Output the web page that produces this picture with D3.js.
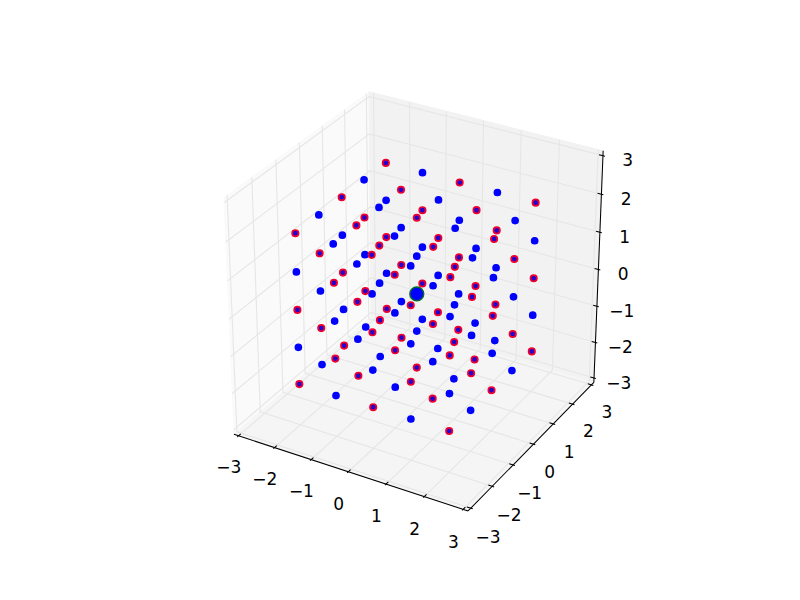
<!DOCTYPE html>
<html>
<head>
<meta charset="utf-8">
<script src="https://cdn.jsdelivr.net/npm/d3@7"></script>
<style>html,body{margin:0;padding:0;background:#fff}svg{display:block}</style>
</head>
<body>
<svg id="c" width="800" height="600"></svg>
<script>
const tickValues = [-3,-2,-1,0,1,2,3];
const tickLabels = ["\u22123","\u22122","\u22121","0","1","2","3"];
const centreSite = [[0,0,0]];
const redEdgeSites = [
[-2,-2,-2],[-2,-2,0],[-2,-2,2],[-2,-1,-1],[-2,-1,1],[-2,0,-2],[-2,0,0],[-2,0,2],[-2,1,-1],[-2,1,1],[-2,2,-2],[-2,2,0],[-2,2,2],
[-1,-2,-1],[-1,-2,1],[-1,-1,-2],[-1,-1,0],[-1,-1,2],[-1,0,-1],[-1,0,1],[-1,1,-2],[-1,1,0],[-1,1,2],[-1,2,-1],[-1,2,1],
[0,-2,-2],[0,-2,0],[0,-2,2],[0,-1,-1],[0,-1,1],[0,0,-2],[0,0,2],[0,1,-1],[0,1,1],[0,2,-2],[0,2,0],[0,2,2],
[1,-2,-1],[1,-2,1],[1,-1,-2],[1,-1,0],[1,-1,2],[1,0,-1],[1,0,1],[1,1,-2],[1,1,0],[1,1,2],[1,2,-1],[1,2,1],
[2,-2,-2],[2,-2,0],[2,-2,2],[2,-1,-1],[2,-1,1],[2,0,-2],[2,0,0],[2,0,2],[2,1,-1],[2,1,1],[2,2,-2],[2,2,0],[2,2,2]
];
const blueEdgeSites = [
[-2,-2,-1],[-2,-2,1],[-2,-1,-2],[-2,-1,0],[-2,-1,2],[-2,0,-1],[-2,0,1],[-2,1,-2],[-2,1,0],[-2,1,2],[-2,2,-1],[-2,2,1],
[-1,-2,-2],[-1,-2,0],[-1,-2,2],[-1,-1,-1],[-1,-1,1],[-1,0,-2],[-1,0,0],[-1,0,2],[-1,1,-1],[-1,1,1],[-1,2,-2],[-1,2,0],[-1,2,2],
[0,-2,-1],[0,-2,1],[0,-1,-2],[0,-1,0],[0,-1,2],[0,0,-1],[0,0,1],[0,1,-2],[0,1,0],[0,1,2],[0,2,-1],[0,2,1],
[1,-2,-2],[1,-2,0],[1,-2,2],[1,-1,-1],[1,-1,1],[1,0,-2],[1,0,0],[1,0,2],[1,1,-1],[1,1,1],[1,2,-2],[1,2,0],[1,2,2],
[2,-2,-1],[2,-2,1],[2,-1,-2],[2,-1,0],[2,-1,2],[2,0,-1],[2,0,1],[2,1,-2],[2,1,0],[2,1,2],[2,2,-1],[2,2,1]
];

const elev = 30*Math.PI/180, azim = -60*Math.PI/180, dist = 10;
const world = d3.scaleLinear().domain([-3,3]).range([0,1]);
const screenX = d3.scaleLinear().domain([-0.095,0.09]).range([170.3,650.3]);
const screenY = d3.scaleLinear().domain([-0.095,0.09]).range([540.4,60.4]);
const E = [.5+dist*Math.cos(elev)*Math.cos(azim), .5+dist*Math.cos(elev)*Math.sin(azim), .5+dist*Math.sin(elev)];
const norm = v => { const l=Math.hypot(...v); return v.map(d=>d/l); };
const cross = (a,b) => [a[1]*b[2]-a[2]*b[1], a[2]*b[0]-a[0]*b[2], a[0]*b[1]-a[1]*b[0]];
const dot = (a,b) => a[0]*b[0]+a[1]*b[1]+a[2]*b[2];
const n = norm([E[0]-.5,E[1]-.5,E[2]-.5]), u = norm(cross([0,0,1],n)), v = cross(n,u);
function view(p){ const w=[world(p[0])-E[0],world(p[1])-E[1],world(p[2])-E[2]]; const z=-dot(n,w); return {x:dot(u,w)/z,y:dot(v,w)/z,z}; }
function proj(p){ const q=view(p); return [screenX(q.x),screenY(q.y)]; }

const svg = d3.select("#c");
const lo=-3.125, hi=3.125;
const line = d3.line().x(d=>proj(d)[0]).y(d=>proj(d)[1]);

const panes = [
 {c:"#fafafa",p:[[lo,lo,lo],[lo,hi,lo],[lo,hi,hi],[lo,lo,hi]]},
 {c:"#f2f2f2",p:[[lo,hi,lo],[hi,hi,lo],[hi,hi,hi],[lo,hi,hi]]},
 {c:"#f5f5f5",p:[[lo,lo,lo],[hi,lo,lo],[hi,hi,lo],[lo,hi,lo]]}
];
svg.append("g").selectAll("path").data(panes).join("path")
  .attr("d",d=>line(d.p)+"Z").attr("fill",d=>d.c).attr("stroke",d=>d.c).attr("stroke-width",1);

const gridLines=[];
tickValues.forEach(t=>{
  gridLines.push([[t,lo,lo],[t,hi,lo],[t,hi,hi]]);
  gridLines.push([[hi,t,lo],[lo,t,lo],[lo,t,hi]]);
  gridLines.push([[lo,lo,t],[lo,hi,t],[hi,hi,t]]);
});
svg.append("g").selectAll("path").data(gridLines).join("path")
  .attr("d",line).attr("fill","none").attr("stroke","#e6e6e6").attr("stroke-width",1.11);

const axes=[
 {from:[lo,lo,lo],to:[hi,lo,lo],
  tick:t=>[[t,lo-0.05,lo],[t,lo+0.1,lo]], lab:t=>proj([t,lo-0.6,lo-0.6]), dx:3.6,dy:-2.6},
 {from:[hi,lo,lo],to:[hi,hi,lo],
  tick:t=>[[hi+0.05,t,lo],[hi-0.1,t,lo]], lab:t=>proj([hi+0.6,t,lo-0.6]), dx:-6,dy:-0.8},
 {from:[hi,hi,lo],to:[hi,hi,hi],
  tick:t=>[[hi+0.05,hi,t],[hi-0.1,hi,t]], lab:t=>proj([hi,hi,t]), dx:24.8,dy:4.8}
];
const axisG=svg.append("g");
axes.forEach(a=>{
  axisG.append("path").attr("d",line([a.from,a.to])).attr("stroke","#000").attr("stroke-width",1.04).attr("fill","none");
  axisG.append("g").selectAll("path").data(tickValues).join("path")
    .attr("d",t=>line(a.tick(t))).attr("stroke","#000").attr("stroke-width",1.04).attr("fill","none");
  axisG.append("g").selectAll("text").data(tickValues).join("text")
    .attr("x",t=>a.lab(t)[0]+a.dx).attr("y",t=>a.lab(t)[1]+a.dy)
    .attr("text-anchor","middle").attr("dominant-baseline","central")
    .attr("font-family","DejaVu Sans").attr("font-size",17).attr("fill","#000")
    .text((t,i)=>tickLabels[i]);
});

function scatter(sites,r,fill,edge,w){
  const sorted=sites.slice().sort((a,b)=>view(b).z-view(a).z);
  svg.append("g").selectAll("circle").data(sorted).join("circle")
    .attr("cx",d=>proj(d)[0]).attr("cy",d=>proj(d)[1]).attr("r",r)
    .attr("fill",fill).attr("stroke",edge).attr("stroke-width",w);
}
scatter(blueEdgeSites,3.15,"#0000ff","#0000ff",1.39);
scatter(redEdgeSites,3.2,"#2000d0","#f0002c",1.7);
scatter(centreSite,6.94,"#0000ff","#006a2a",1.39);
</script>
</body>
</html>
